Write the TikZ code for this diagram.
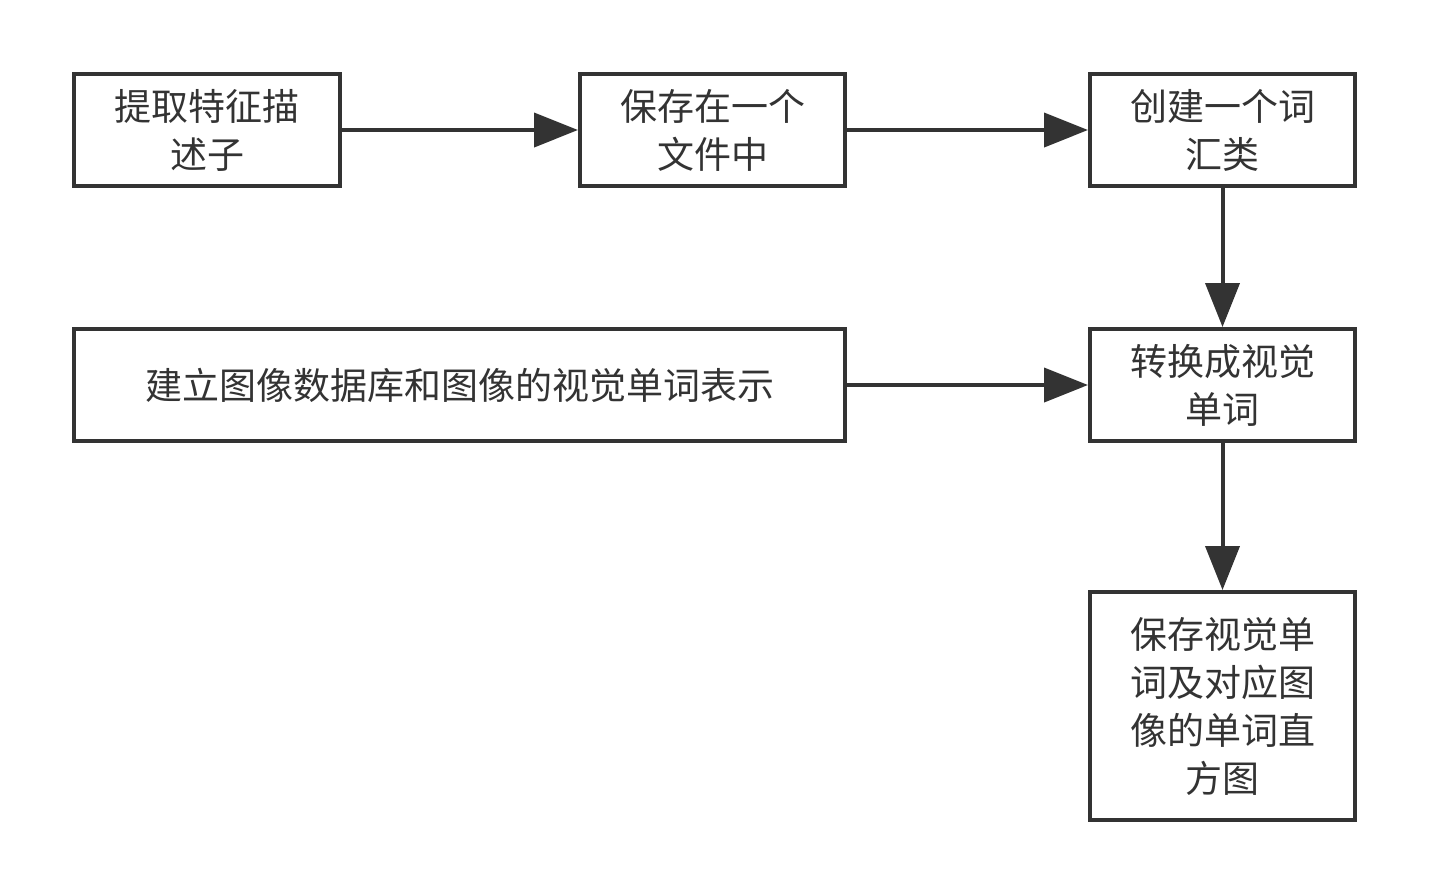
\documentclass[tikz,border=0pt]{standalone}
\usepackage{fontspec}
\setmainfont{Noto Sans CJK SC}
\usetikzlibrary{arrows.meta}
\definecolor{dk}{HTML}{333333}
\begin{document}
\begin{tikzpicture}[x=1pt,y=-1pt,
  box/.style={draw=dk,line width=4pt,align=center,text=dk,font=\fontsize{37}{48}\selectfont,inner sep=0pt},
  arr/.style={draw=dk,line width=4pt,-{Triangle[length=44pt,width=34pt]}}]
\useasboundingbox (0,0) rectangle (1429,895);
\node[box,minimum width=266pt,minimum height=112pt] (a) at (207,130) {提取特征描\\述子};
\node[box,minimum width=265pt,minimum height=112pt] (b) at (712.5,130) {保存在一个\\文件中};
\node[box,minimum width=265pt,minimum height=112pt] (c) at (1222.5,130) {创建一个词\\汇类};
\node[box,minimum width=771pt,minimum height=112pt] (d) at (459.5,385) {建立图像数据库和图像的视觉单词表示};
\node[box,minimum width=265pt,minimum height=112pt] (e) at (1222.5,385) {转换成视觉\\单词};
\node[box,minimum width=265pt,minimum height=228pt] (f) at (1222.5,706) {保存视觉单\\词及对应图\\像的单词直\\方图};
\draw[arr] (a) -- (b);
\draw[arr] (b) -- (c);
\draw[arr] (c) -- (e);
\draw[arr] (d) -- (e);
\draw[arr] (e) -- (f);
\end{tikzpicture}
\end{document}
